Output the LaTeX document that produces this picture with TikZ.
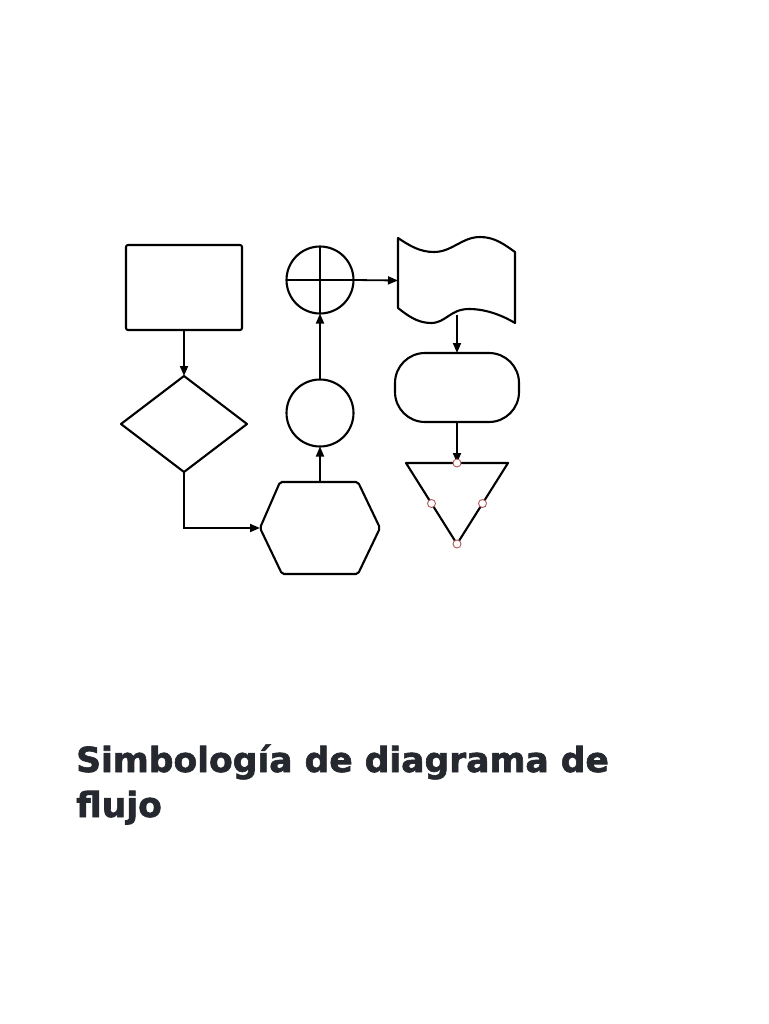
\documentclass[tikz,border=0pt]{standalone}
\usepackage{fontspec}
\newfontfamily\titlefont[BoldFeatures={FakeBold=1.8}]{DejaVu Sans}
\usetikzlibrary{arrows.meta,calc}
\definecolor{titlecol}{HTML}{25282E}
\definecolor{handlecol}{HTML}{B5585A}
\begin{document}
\begin{tikzpicture}[x=1pt,y=-1pt,
  shapeline/.style={draw=black,line width=2.1pt,line join=round},
  box/.style={inner sep=0pt,outer sep=0pt},
  flow/.style={draw=black,line width=1.8pt,-{Triangle[length=10pt,width=8pt]}},
  handle/.style={circle,draw=handlecol,fill=white,line width=0.9pt,inner sep=0pt,minimum size=8pt}]
\useasboundingbox[fill=white] (0,0) rectangle (768,1024);
% process rectangle
\node[box,shapeline,rounded corners=2pt,minimum width=116pt,minimum height=85pt] (rect) at (184,287.5) {};
% decision diamond
\node[box,minimum width=126pt,minimum height=96pt] (dia) at (184,424) {};
\draw[shapeline] (dia.west) -- (dia.north) -- (dia.east) -- (dia.south) -- cycle;
% hexagon
\node[box,minimum width=120pt,minimum height=92pt] (hex) at (320,528) {};
\draw[shapeline,rounded corners=2pt] (hex.west) -- ($(hex.north west)+(20,0)$) -- ($(hex.north east)+(-22,0)$) -- (hex.east) -- ($(hex.south east)+(-22,0)$) -- ($(hex.south west)+(22,0)$) -- cycle;
% connector circle
\node[box,shapeline,circle,minimum size=67pt] (circ) at (320,413) {};
% summing junction
\node[box,shapeline,circle,minimum size=67pt] (sum) at (320,280) {};
\draw[shapeline] (sum.north) -- (sum.south) (sum.west) -- (sum.east);
% document / tape
\node[box,minimum width=117pt,minimum height=85pt] (wave) at (456.5,280.5) {};
\draw[shapeline] (398,238) .. controls (410,246) and (420,252) .. (434,252)
  .. controls (452,252) and (462,237) .. (480,237)
  .. controls (495,237) and (505,245) .. (515,252)
  -- (515,323)
  .. controls (505,317) and (488,309) .. (469,309)
  .. controls (450,309) and (446,323) .. (431,323)
  .. controls (417,323) and (407,315) .. (398,308) -- cycle;
\coordinate (wavebot) at (457,315);
% terminator
\node[box,shapeline,rounded corners=30pt,minimum width=124pt,minimum height=69pt] (term) at (457,387.5) {};
% merge triangle
\node[box,minimum width=102pt,minimum height=81pt] (tri) at (457,503.5) {};
\draw[shapeline] (tri.north west) -- (tri.north east) -- (tri.south) -- cycle;
% connectors
\draw[flow] (rect.south) -- (dia.north);
\draw[flow] (dia.south) |- (hex.west);
\draw[flow] (hex.north) -- (circ.south);
\draw[flow] (circ.north) -- (sum.south);
\draw[flow] (sum.east) -- (wave.west);
\draw[flow] (wavebot) -- (term.north);
\draw[flow] (term.south) -- (tri.north);
% handles
\node[handle] (h1) at (tri.north) {};
\node[handle] (h2) at ($(tri.north west)!0.5!(tri.south)$) {};
\node[handle] (h3) at ($(tri.north east)!0.5!(tri.south)$) {};
\node[handle] (h4) at (tri.south) {};
% title
\node[anchor=base west,inner sep=0pt,align=left,text=titlecol,font=\titlefont\bfseries\fontsize{34.5pt}{45pt}\selectfont] (title) at (76,817) {Simbología de diagrama de\\flujo};
\end{tikzpicture}
\end{document}
